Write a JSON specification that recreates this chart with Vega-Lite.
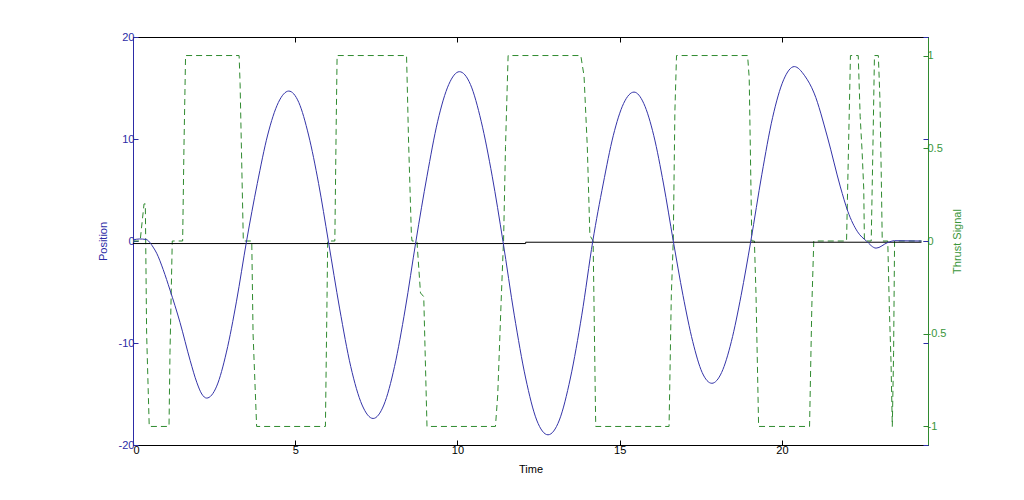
{
  "$schema": "https://vega.github.io/schema/vega-lite/v6.json",
  "width": 795,
  "height": 408,
  "autosize": "none",
  "padding": {"left": 133, "top": 37, "right": 96, "bottom": 55},
  "background": "white",
  "config": {
    "view": {"stroke": "black", "strokeWidth": 1},
    "font": "Liberation Sans",
    "axis": {
      "grid": false,
      "labelFont": "Liberation Sans",
      "titleFont": "Liberation Sans",
      "labelFontSize": 11,
      "titleFontSize": 11,
      "titleFontWeight": "normal",
      "tickSize": -5,
      "labelPadding": 4,
      "labelExpr": "'' + datum.value"
    }
  },
  "datasets": {
    "position": [
      {"t": 0, "v": 0.1}, {"t": 0.2, "v": 0.2}, {"t": 0.4, "v": 0.15},
      {"t": 0.62, "v": -0.6}, {"t": 0.73, "v": -1.2}, {"t": 0.93, "v": -2.8},
      {"t": 1.14, "v": -4.8}, {"t": 1.45, "v": -8.0}, {"t": 1.76, "v": -11.7},
      {"t": 1.97, "v": -13.9}, {"t": 2.12, "v": -15.0}, {"t": 2.27, "v": -15.4},
      {"t": 2.58, "v": -14.23}, {"t": 2.88, "v": -10.89}, {"t": 3.19, "v": -5.9},
      {"t": 3.5, "v": 0}, {"t": 3.83, "v": 5.63}, {"t": 4.15, "v": 10.39},
      {"t": 4.48, "v": 13.58}, {"t": 4.8, "v": 14.7}, {"t": 5.11, "v": 13.58},
      {"t": 5.41, "v": 10.39}, {"t": 5.72, "v": 5.63}, {"t": 6.02, "v": 0},
      {"t": 6.37, "v": -6.66}, {"t": 6.71, "v": -12.3}, {"t": 7.06, "v": -16.08},
      {"t": 7.4, "v": -17.4}, {"t": 7.73, "v": -16.08}, {"t": 8.06, "v": -12.3},
      {"t": 8.39, "v": -6.66}, {"t": 8.72, "v": 0}, {"t": 9.06, "v": 6.35},
      {"t": 9.39, "v": 11.74}, {"t": 9.73, "v": 15.34}, {"t": 10.06, "v": 16.6},
      {"t": 10.4, "v": 15.34}, {"t": 10.73, "v": 11.74}, {"t": 11.07, "v": 6.35},
      {"t": 11.4, "v": 0}, {"t": 11.75, "v": -7.27}, {"t": 12.1, "v": -13.43},
      {"t": 12.44, "v": -17.55}, {"t": 12.79, "v": -19.0}, {"t": 13.14, "v": -17.55},
      {"t": 13.48, "v": -13.43}, {"t": 13.83, "v": -7.27}, {"t": 14.17, "v": 0},
      {"t": 14.49, "v": 5.59}, {"t": 14.8, "v": 10.32}, {"t": 15.12, "v": 13.49},
      {"t": 15.44, "v": 14.6}, {"t": 15.74, "v": 13.49}, {"t": 16.05, "v": 10.32},
      {"t": 16.35, "v": 5.59}, {"t": 16.65, "v": 0}, {"t": 16.95, "v": -5.34},
      {"t": 17.25, "v": -9.86}, {"t": 17.54, "v": -12.89}, {"t": 17.84, "v": -13.95},
      {"t": 18.14, "v": -12.89}, {"t": 18.44, "v": -9.86}, {"t": 18.74, "v": -5.34},
      {"t": 19.04, "v": 0}, {"t": 19.38, "v": 6.54}, {"t": 19.71, "v": 12.09},
      {"t": 20.05, "v": 15.8}, {"t": 20.38, "v": 17.1}, {"t": 20.7, "v": 16.2},
      {"t": 20.99, "v": 14.5}, {"t": 21.4, "v": 10.2}, {"t": 21.8, "v": 5.3},
      {"t": 22.03, "v": 2.9}, {"t": 22.33, "v": 0.9}, {"t": 22.6, "v": 0},
      {"t": 22.9, "v": -0.7}, {"t": 23.26, "v": -0.15}, {"t": 23.47, "v": 0.03},
      {"t": 24.3, "v": 0}
    ],
    "reference": [
      {"t": 0, "v": -0.25}, {"t": 12.1, "v": -0.25},
      {"t": 12.1, "v": -0.12}, {"t": 24.3, "v": -0.12}
    ],
    "thrust": [
      {"t": 0, "v": 0}, {"t": 0.22, "v": 0}, {"t": 0.34, "v": 0.2},
      {"t": 0.38, "v": 0.2}, {"t": 0.42, "v": -0.5}, {"t": 0.5, "v": -1},
      {"t": 1.11, "v": -1}, {"t": 1.14, "v": -0.6}, {"t": 1.21, "v": 0},
      {"t": 1.53, "v": 0}, {"t": 1.57, "v": 0.5}, {"t": 1.62, "v": 1},
      {"t": 3.27, "v": 1}, {"t": 3.3, "v": 0.85}, {"t": 3.4, "v": 0},
      {"t": 3.66, "v": 0}, {"t": 3.7, "v": -0.5}, {"t": 3.81, "v": -1},
      {"t": 5.93, "v": -1}, {"t": 5.98, "v": -0.3}, {"t": 6.0, "v": 0},
      {"t": 6.22, "v": 0}, {"t": 6.26, "v": 0.6}, {"t": 6.29, "v": 1},
      {"t": 8.43, "v": 1}, {"t": 8.46, "v": 0.78}, {"t": 8.49, "v": 0.55},
      {"t": 8.58, "v": 0.03}, {"t": 8.6, "v": 0}, {"t": 8.75, "v": 0},
      {"t": 8.86, "v": -0.28}, {"t": 8.96, "v": -0.3}, {"t": 9.06, "v": -1},
      {"t": 11.17, "v": -1}, {"t": 11.24, "v": -0.83}, {"t": 11.34, "v": -0.35},
      {"t": 11.4, "v": -0.08}, {"t": 11.42, "v": 0}, {"t": 11.48, "v": 0.51},
      {"t": 11.56, "v": 1}, {"t": 13.8, "v": 1}, {"t": 13.9, "v": 0.89},
      {"t": 14.0, "v": 0.51}, {"t": 14.08, "v": 0.03}, {"t": 14.18, "v": 0},
      {"t": 14.26, "v": -1}, {"t": 16.52, "v": -1}, {"t": 16.59, "v": -0.29},
      {"t": 16.65, "v": 0}, {"t": 16.7, "v": 0.7}, {"t": 16.75, "v": 1},
      {"t": 18.94, "v": 1}, {"t": 18.99, "v": 0.88}, {"t": 19.07, "v": 0},
      {"t": 19.15, "v": 0}, {"t": 19.2, "v": -0.29}, {"t": 19.28, "v": -1},
      {"t": 20.85, "v": -1}, {"t": 20.92, "v": -0.35}, {"t": 20.98, "v": 0},
      {"t": 21.99, "v": 0}, {"t": 22.11, "v": 1}, {"t": 22.35, "v": 1},
      {"t": 22.41, "v": 0.67}, {"t": 22.47, "v": 0.48}, {"t": 22.52, "v": 0.28},
      {"t": 22.54, "v": 0}, {"t": 22.75, "v": 0}, {"t": 22.8, "v": 0.48},
      {"t": 22.85, "v": 1}, {"t": 22.97, "v": 1}, {"t": 23.02, "v": 0.76},
      {"t": 23.06, "v": 0.35}, {"t": 23.09, "v": 0}, {"t": 23.26, "v": 0},
      {"t": 23.31, "v": -0.37}, {"t": 23.36, "v": -0.65}, {"t": 23.4, "v": -1},
      {"t": 23.44, "v": -0.6}, {"t": 23.47, "v": 0}, {"t": 24.3, "v": 0}
    ]
  },
  "layer": [
    {
      "data": {"name": "thrust"},
      "mark": {"type": "line", "color": "#2f8a2f", "strokeWidth": 1, "strokeDash": [6, 4]},
      "encoding": {
        "x": {
          "field": "t", "type": "quantitative",
          "scale": {"domain": [0, 24.5], "nice": false},
          "axis": {"orient": "top", "values": [0, 5, 10, 15, 20], "labels": false, "title": null, "domainColor": "black", "tickColor": "black"}
        },
        "y": {
          "field": "v", "type": "quantitative",
          "scale": {"domain": [-1.1, 1.1], "nice": false},
          "axis": {
            "orient": "right", "values": [-1, -0.5, 0, 0.5, 1],
            "title": "Thrust Signal", "titleAngle": 270, "titlePadding": 17,
            "domainColor": "#2f8a2f", "tickColor": "#2f8a2f", "labelColor": "#3a963a", "titleColor": "#3a963a"
          }
        }
      }
    },
    {
      "data": {"name": "reference"},
      "mark": {"type": "line", "color": "black", "strokeWidth": 1},
      "encoding": {
        "x": {"field": "t", "type": "quantitative", "scale": {"domain": [0, 24.5], "nice": false}, "axis": null},
        "y": {
          "field": "v", "type": "quantitative",
          "scale": {"domain": [-20, 20], "nice": false},
          "axis": {"orient": "right", "values": [-20, -10, 0, 10, 20], "labels": false, "domain": false, "title": null, "tickColor": "#2c2ca6"}
        }
      }
    },
    {
      "data": {"name": "position"},
      "mark": {"type": "line", "color": "#3434a8", "strokeWidth": 1, "interpolate": "monotone"},
      "encoding": {
        "x": {
          "field": "t", "type": "quantitative",
          "scale": {"domain": [0, 24.5], "nice": false},
          "axis": {"orient": "bottom", "values": [0, 5, 10, 15, 20], "title": "Time", "titlePadding": 8, "domainColor": "black", "tickColor": "black", "labelColor": "black", "titleColor": "black"}
        },
        "y": {
          "field": "v", "type": "quantitative",
          "scale": {"domain": [-20, 20], "nice": false},
          "axis": {
            "orient": "left", "values": [-20, -10, 0, 10, 20],
            "title": "Position", "titlePadding": 10,
            "domainColor": "#2c2ca6", "tickColor": "#2c2ca6", "labelColor": "#2c2ca6", "titleColor": "#2c2ca6"
          }
        }
      }
    }
  ],
  "resolve": {"scale": {"y": "independent"}, "axis": {"x": "independent", "y": "independent"}}
}
